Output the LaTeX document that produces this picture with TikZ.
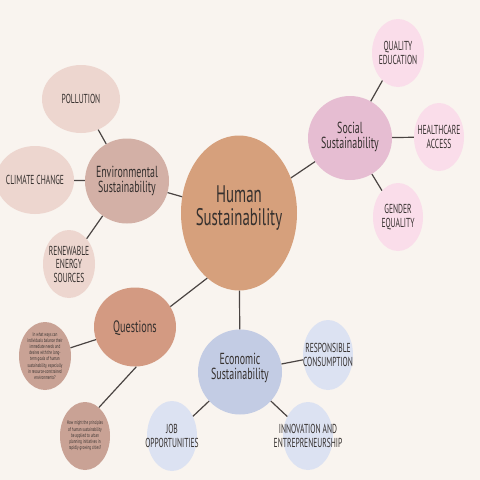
\documentclass[tikz,border=0pt]{standalone}
\usepackage{fontspec}
\setmainfont{PT Sans}[FakeStretch=0.62]
\newfontfamily\capsfont{PT Sans}[FakeStretch=0.58]
\usetikzlibrary{shapes.geometric}
\definecolor{bg}{HTML}{F9F4EF}
\definecolor{humanc}{HTML}{D6A07C}
\definecolor{envc}{HTML}{D3B0A6}
\definecolor{envleaf}{HTML}{EDD6CF}
\definecolor{socc}{HTML}{E6BDD2}
\definecolor{socleaf}{HTML}{FADDEA}
\definecolor{qc}{HTML}{D39A82}
\definecolor{qleaf}{HTML}{C9A295}
\definecolor{ecoc}{HTML}{C3CCE4}
\definecolor{ecoleaf}{HTML}{DCE2F2}
\definecolor{txt}{HTML}{35302E}
\definecolor{linec}{HTML}{4A4442}
\tikzset{
  bubble/.style={ellipse, inner sep=0pt},
  lbl/.style={inner sep=0pt, align=center, text=txt},
  big/.style={lbl, font=\fontsize{16}{15}\selectfont},
  caps/.style={lbl, font=\capsfont\fontsize{13}{13.5}\selectfont},
  tiny/.style={lbl, font=\fontsize{5.4}{6.2}\selectfont},
  conn/.style={draw=linec, line width=1.2pt},
}
\begin{document}
\begin{tikzpicture}[x=1pt,y=-1pt]
\fill[bg] (0,0) rectangle (480,480);
\useasboundingbox (0,0) rectangle (480,480);
\clip (0,0) rectangle (480,480);
% shapes
\node[bubble, fill=humanc, minimum width=116pt, minimum height=155pt] (hum) at (239,213) {};
\node[bubble, fill=envc, minimum width=84pt, minimum height=85pt] (env) at (127,181) {};
\node[bubble, fill=envleaf, minimum width=78pt, minimum height=68pt] (pol) at (81,99) {};
\node[bubble, fill=envleaf, minimum width=78pt, minimum height=68pt] (cli) at (35,180) {};
\node[bubble, fill=envleaf, minimum width=52pt, minimum height=68pt] (ren) at (69,264) {};
\node[bubble, fill=socc, minimum width=84pt, minimum height=84pt] (soc) at (350,138) {};
\node[bubble, fill=socleaf, minimum width=52pt, minimum height=68pt] (edu) at (398,53) {};
\node[bubble, fill=socleaf, minimum width=50pt, minimum height=68pt] (hea) at (439,137) {};
\node[bubble, fill=socleaf, minimum width=50pt, minimum height=68pt] (gen) at (398,217) {};
\node[bubble, fill=qc, minimum width=82pt, minimum height=79pt] (que) at (135,327) {};
\node[bubble, fill=qleaf, minimum width=52pt, minimum height=68pt] (q1) at (45,356) {};
\node[bubble, fill=qleaf, minimum width=50pt, minimum height=68pt] (q2) at (85,436) {};
\node[bubble, fill=ecoc, minimum width=84pt, minimum height=85pt] (eco) at (240,372) {};
\node[bubble, fill=ecoleaf, minimum width=50pt, minimum height=70pt] (res) at (328,355) {};
\node[bubble, fill=ecoleaf, minimum width=50pt, minimum height=68pt] (inn) at (308,436) {};
\node[bubble, fill=ecoleaf, minimum width=50pt, minimum height=70pt] (job) at (172,436) {};
% connectors
\draw[conn] (hum) -- (env);
\draw[conn] (hum) -- (soc);
\draw[conn] (hum.244) -- (que.30);
\draw[conn] (hum) -- (eco);
\draw[conn] (env) -- (pol);
\draw[conn] (env) -- (cli);
\draw[conn] (env) -- (ren);
\draw[conn] (soc) -- (edu);
\draw[conn] (soc) -- (hea);
\draw[conn] (soc) -- (gen);
\draw[conn] (que) -- (q1);
\draw[conn] (que.-88) -- (q2.64);
\draw[conn] (eco) -- (res);
\draw[conn] (eco) -- (inn);
\draw[conn] (eco) -- (job);
% labels
\node[lbl, font=\fontsize{24}{23}\selectfont] (humt) at (239,208) {Human\\Sustainability};
\node[big] (envt) at (127,181) {Environmental\\Sustainability};
\node[caps] (polt) at (pol) {POLLUTION};
\node[caps] (clit) at (cli) {CLIMATE CHANGE};
\node[caps] (rent) at (ren) {RENEWABLE\\ENERGY\\SOURCES};
\node[big] (soct) at (350,137) {Social\\Sustainability};
\node[caps] (edut) at (edu) {QUALITY\\EDUCATION};
\node[caps] (heat) at (hea) {HEALTHCARE\\ACCESS};
\node[caps] (gent) at (gen) {GENDER\\EQUALITY};
\node[lbl, font=\fontsize{16.5}{17}\selectfont] (quet) at (135,328) {Questions};
\node[tiny] (q1t) at (q1) {In what ways can\\individuals balance their\\immediate needs and\\desires with the long-\\term goals of human\\sustainability, especially\\in resource-constrained\\environments?};
\node[tiny] (q2t) at (q2) {How might the principles\\of human sustainability\\be applied to urban\\planning initiatives in\\rapidly growing cities?};
\node[big] (ecot) at (240,368) {Economic\\Sustainability};
\node[caps] (rest) at (res) {RESPONSIBLE\\CONSUMPTION};
\node[caps] (innt) at (inn) {INNOVATION AND\\ENTREPRENEURSHIP};
\node[caps] (jobt) at (job) {JOB\\OPPORTUNITIES};
\end{tikzpicture}
\end{document}
